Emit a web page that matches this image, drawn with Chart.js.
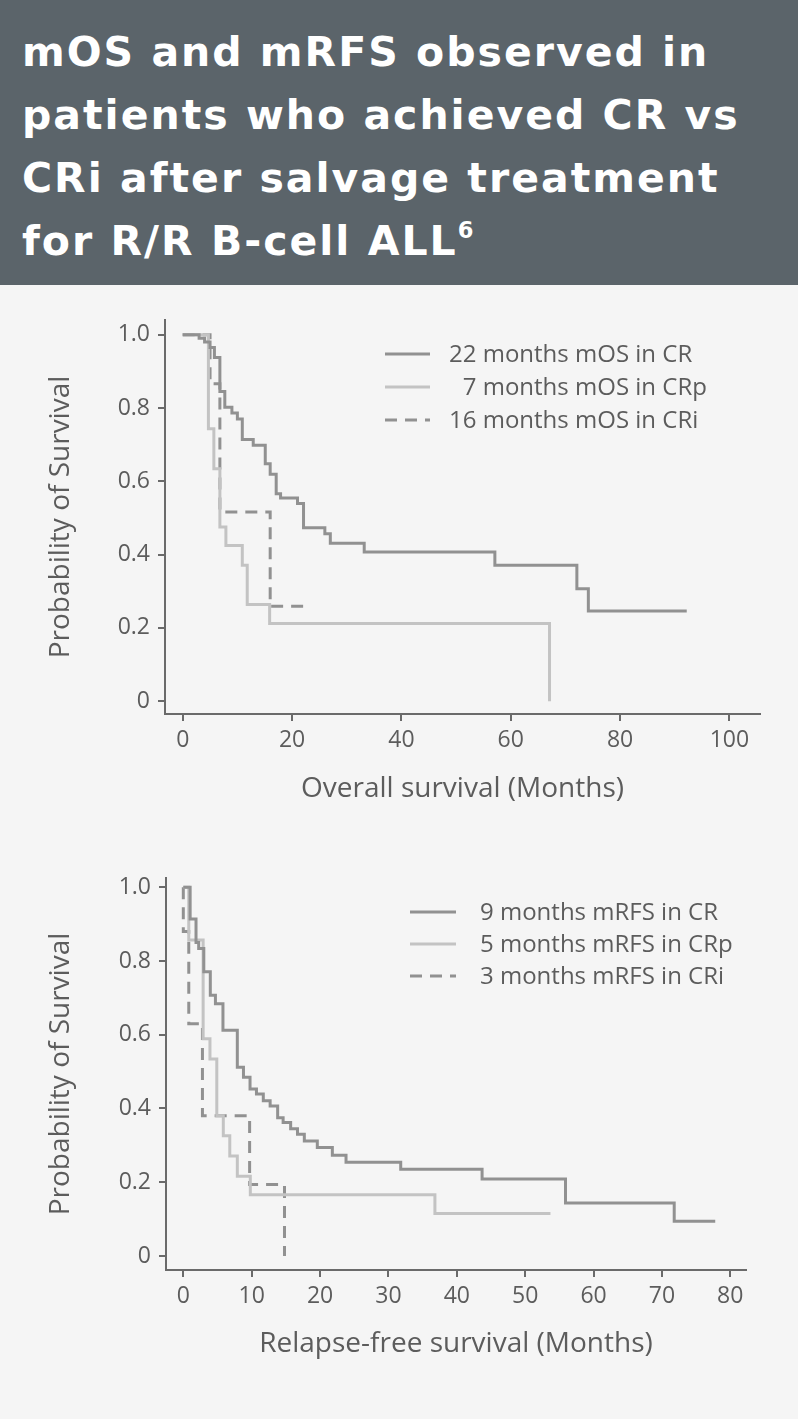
<!DOCTYPE html>
<html>
<head>
<meta charset="utf-8">
<script src="https://cdn.jsdelivr.net/npm/chart.js@4.4.1/dist/chart.umd.min.js"></script>
<style>
  html, body { margin: 0; padding: 0; background: #f5f5f5; }
  body { width: 798px; height: 1419px; position: relative; overflow: hidden; }
  .header { position: absolute; left: 0; top: 0; width: 798px; height: 285px; background: #5b646a; }
  .header h1 {
    margin: 0; padding: 21px 0 0 22px; color: #fff;
    font-family: "DejaVu Sans", sans-serif; font-weight: 700; font-size: 41px;
    line-height: 63px; letter-spacing: 2px; white-space: nowrap;
  }
  .header sup { font-size: 0.55em; vertical-align: 0.75em; line-height: 0; letter-spacing: 0; }
  .chart-box { position: absolute; left: 0; width: 798px; height: 540px; }
</style>
</head>
<body>
<div class="header">
  <h1>mOS and mRFS observed in<br>patients who achieved CR vs<br>CRi after salvage treatment<br>for R/R B-cell ALL<sup>6</sup></h1>
</div>
<div class="chart-box" style="top:285px"><canvas id="osChart" width="798" height="540"></canvas></div>
<div class="chart-box" style="top:843px"><canvas id="rfsChart" width="798" height="540"></canvas></div>

<script>
// overall survival, step curves (month where the step starts, survival from then on)
const osCrMonths = [0, 3.0, 4.0, 5.0, 5.8, 6.8, 7.7, 9.0, 10.0, 10.9, 12.9, 15.1, 16.0, 17.1, 17.9, 21.0, 22.1, 26.0, 27.0, 33.2, 57.1, 72.1, 74.2, 92.2];
const osCrSurv   = [1.0, 0.99, 0.98, 0.965, 0.938, 0.845, 0.802, 0.786, 0.770, 0.714, 0.698, 0.648, 0.619, 0.566, 0.554, 0.539, 0.473, 0.457, 0.431, 0.407, 0.371, 0.307, 0.246, 0.246];
const osCrpMonths = [0, 4.7, 5.7, 6.8, 7.9, 10.9, 11.8, 15.9, 67.1];
const osCrpSurv   = [1.0, 0.743, 0.634, 0.475, 0.425, 0.371, 0.264, 0.212, 0];
const osCriMonths = [0, 5.0, 6.8, 16.0, 23.0];
const osCriSurv   = [1.0, 0.866, 0.516, 0.259, 0.259];

// relapse-free survival
const rfsCrMonths = [0, 1.0, 1.86, 2.25, 3.0, 3.95, 4.7, 5.8, 7.9, 8.8, 9.76, 10.7, 11.7, 12.7, 13.8, 14.6, 15.7, 16.7, 17.7, 19.6, 21.8, 23.8, 31.8, 43.7, 55.9, 71.8, 77.8];
const rfsCrSurv   = [1.0, 0.914, 0.85, 0.834, 0.771, 0.707, 0.684, 0.612, 0.512, 0.485, 0.453, 0.439, 0.421, 0.407, 0.375, 0.362, 0.345, 0.330, 0.312, 0.294, 0.273, 0.254, 0.235, 0.209, 0.144, 0.094, 0.094];
const rfsCrpMonths = [0, 0.8, 2.9, 3.9, 4.9, 5.85, 6.8, 7.9, 9.8, 36.8, 53.7];
const rfsCrpSurv   = [1.0, 0.857, 0.589, 0.534, 0.380, 0.326, 0.271, 0.216, 0.166, 0.115, 0.115];
const rfsCriMonths = [0, 0, 0.8, 2.8, 9.7, 14.8];
const rfsCriSurv   = [1.0, 0.880, 0.630, 0.380, 0.194, 0];

const osLabels  = ['22 months mOS in CR', '\u20077 months mOS in CRp', '16 months mOS in CRi'];
const rfsLabels = ['9 months mRFS in CR', '5 months mRFS in CRp', '3 months mRFS in CRi'];

const yTicks = [0, 0.2, 0.4, 0.6, 0.8, 1.0];
const osXTicks = [0, 20, 40, 60, 80, 100];
const rfsXTicks = [0, 10, 20, 30, 40, 50, 60, 70, 80];

const FONT = "'Open Sans', sans-serif";
const TEXT = '#5c5c5c';
const AXIS = '#6a6a6a';
const DARK = '#919191';
const LIGHT = '#c3c3c3';

function pts(months, surv) {
  return months.map((m, i) => ({ x: m, y: surv[i] }));
}

function line(label, months, surv, color, dash) {
  return {
    label: label,
    data: pts(months, surv),
    borderColor: color,
    borderWidth: 3,
    borderDash: dash || [],
    stepped: 'before',
    pointRadius: 0,
    fill: false
  };
}

// legend drawn inside the plot, like the original
const kmLegend = {
  id: 'kmLegend',
  afterDraw(chart, args, opts) {
    const ctx = chart.ctx;
    ctx.save();
    chart.data.datasets.forEach((ds, i) => {
      const y = opts.y + i * opts.rowH;
      ctx.beginPath();
      ctx.strokeStyle = ds.borderColor;
      ctx.lineWidth = ds.borderWidth;
      ctx.setLineDash(ds.borderDash);
      ctx.moveTo(opts.x, y);
      ctx.lineTo(opts.x + opts.lineLen, y);
      ctx.stroke();
      ctx.setLineDash([]);
      ctx.fillStyle = TEXT;
      ctx.font = '24px ' + FONT;
      ctx.textBaseline = 'middle';
      ctx.textAlign = 'left';
      ctx.fillText(ds.label, opts.textX, y + 1);
    });
    ctx.restore();
  }
};

function makeChart(id, datasets, cfg) {
  return new Chart(document.getElementById(id), {
    type: 'line',
    data: { datasets: datasets },
    plugins: [kmLegend],
    options: {
      responsive: false,
      animation: false,
      layout: { padding: { top: 35, right: cfg.padRight, bottom: 0, left: 0 } },
      plugins: {
        legend: { display: false },
        tooltip: { enabled: false },
        kmLegend: cfg.legend
      },
      scales: {
        x: {
          type: 'linear',
          min: cfg.xMin, max: cfg.xMax,
          afterBuildTicks: s => { s.ticks = cfg.xTicks.map(v => ({ value: v })); },
          afterFit: s => { s.height = cfg.xHeight; },
          grid: { drawOnChartArea: false, tickLength: 7, color: AXIS, lineWidth: 2 },
          border: { color: AXIS, width: 2 },
          ticks: { color: TEXT, font: { family: FONT, size: 23 }, padding: 6, maxRotation: 0, autoSkip: false },
          title: { display: true, text: cfg.xTitle, color: TEXT, font: { family: FONT, size: 28 }, padding: { top: 0, bottom: cfg.xTitlePad } }
        },
        y: {
          type: 'linear',
          min: cfg.yMin, max: cfg.yMax,
          afterBuildTicks: s => { s.ticks = yTicks.map(v => ({ value: v })); },
          afterFit: s => { s.width = cfg.yWidth; },
          grid: { drawOnChartArea: false, tickLength: 7, color: AXIS, lineWidth: 2 },
          border: { color: AXIS, width: 2 },
          ticks: { color: TEXT, font: { family: FONT, size: 23 }, padding: 8, callback: v => v === 0 ? '0' : v.toFixed(1) },
          title: { display: true, text: 'Probability of Survival', color: TEXT, font: { family: FONT, size: 28 }, padding: { top: 44, bottom: 0 } }
        }
      }
    }
  });
}

makeChart('osChart', [
  line(osLabels[0], osCrMonths, osCrSurv, DARK),
  line(osLabels[1], osCrpMonths, osCrpSurv, LIGHT),
  line(osLabels[2], osCriMonths, osCriSurv, DARK, [12, 8])
], {
  xMin: -3.24, xMax: 105.6, yMin: -0.035, yMax: 1.04,
  xTicks: osXTicks, xTitle: 'Overall survival (Months)',
  padRight: 38, yWidth: 165, xHeight: 111, xTitlePad: 19,
  legend: { x: 385, lineLen: 45, textX: 449, y: 69, rowH: 33 }
});

makeChart('rfsChart', [
  line(rfsLabels[0], rfsCrMonths, rfsCrSurv, DARK),
  line(rfsLabels[1], rfsCrpMonths, rfsCrpSurv, LIGHT),
  line(rfsLabels[2], rfsCriMonths, rfsCriSurv, DARK, [12, 8])
], {
  xMin: -2.53, xMax: 82.3, yMin: -0.038, yMax: 1.025,
  xTicks: rfsXTicks, xTitle: 'Relapse-free survival (Months)',
  padRight: 52, yWidth: 166, xHeight: 113, xTitlePad: 22,
  legend: { x: 410, lineLen: 46, textX: 480, y: 69, rowH: 32 }
});
</script>
</body>
</html>
